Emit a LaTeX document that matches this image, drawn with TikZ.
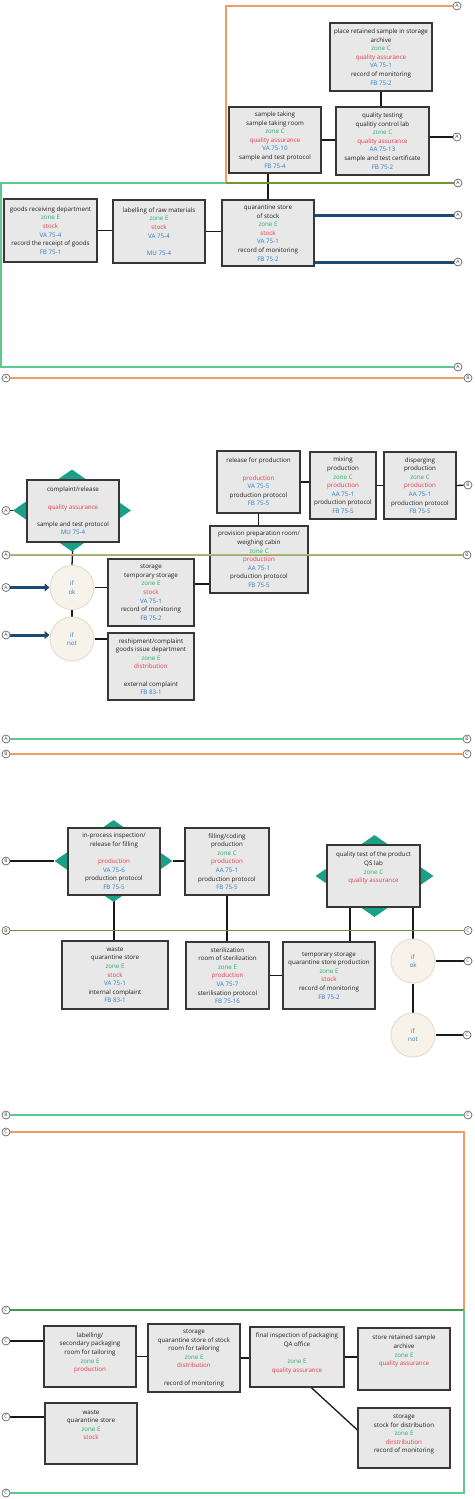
\documentclass[tikz,border=0pt]{standalone}
\usepackage{fontspec}
\setmainfont{Open Sans}
\usetikzlibrary{shapes.geometric,arrows.meta,calc}
\pgfdeclarelayer{bg}
\pgfsetlayers{bg,main}
\definecolor{boxfill}{RGB}{232,232,232}
\definecolor{boxline}{RGB}{55,55,55}
\definecolor{tgreen}{RGB}{40,178,110}
\definecolor{tred}{RGB}{228,60,78}
\definecolor{tblue}{RGB}{45,125,195}
\definecolor{tblack}{RGB}{30,30,30}
\definecolor{mintc}{RGB}{95,200,145}
\definecolor{orangec}{RGB}{240,155,95}
\definecolor{olivec}{RGB}{110,150,50}
\definecolor{dgreenc}{RGB}{60,155,80}
\definecolor{navyc}{RGB}{25,75,115}
\definecolor{tealc}{RGB}{25,160,135}
\definecolor{decfill}{RGB}{247,243,235}
\definecolor{decline}{RGB}{230,222,205}
\newcommand\gtx[1]{\textcolor{tgreen}{#1}}
\newcommand\rtx[1]{\textcolor{tred}{#1}}
\newcommand\btx[1]{\textcolor{tblue}{#1}}
\newcommand\boxnode[6]{\node[box, minimum width={#4-#2}, minimum height={#5-#3}] (#1) at ({(#2+#4)/2},{(#3+#5)/2}) {#6};}
\tikzset{
  box/.style={draw=boxline, fill=boxfill, line width=1.1pt, align=center, inner sep=0pt, text=tblack, font=\fontsize{6.2}{8.6}\selectfont},
  conn/.style={circle, draw=black!60, fill=white, line width=0.7pt, inner sep=0pt, minimum size=8pt, font=\fontsize{5}{5}\selectfont, text=black!75},
  dec/.style={circle, draw=decline, fill=decfill, line width=1pt, minimum size=44pt, inner sep=0pt, align=center, text=tblue, font=\fontsize{6.2}{8.6}\selectfont},
  dia/.style={diamond, fill=tealc, inner sep=0pt, minimum width=118pt, minimum height=82pt},
  link/.style={draw=black!90, line width=1.3pt},
  big/.style={draw=navyc, line width=3pt},
  arr/.style={draw=navyc, line width=3pt, -{Triangle[length=5pt,width=8pt]}},
  mintline/.style={draw=mintc, line width=1.3pt},
  orangeline/.style={draw=orangec, line width=1.3pt},
  oliveline/.style={draw=olivec, line width=1.6pt},
  greenline/.style={draw=dgreenc, line width=1.4pt}
}
\begin{document}
\begin{tikzpicture}[x=1pt,y=-1pt]
\useasboundingbox (0,0) rectangle (474,1499);
% ---------------- section 1
\boxnode{pr}{330}{23}{432}{91}{place retained sample in storage\\archive\\\gtx{zone C}\\\rtx{quality assurance}\\\btx{VA 75-1}\\record of monitoring\\\btx{FB 75-2}}
\boxnode{st}{229}{107}{321}{173}{sample taking\\sample taking room\\\gtx{zone C}\\\rtx{quality assurance}\\\btx{VA 75-10}\\sample and test protocol\\\btx{FB 75-4}}
\boxnode{qt}{336}{107}{429}{175}{quality testing\\qualitiy control lab\\\gtx{zone C}\\\rtx{quality assurance}\\\btx{AA 75-13}\\sample and test certificate\\\btx{FB 75-2}}
\boxnode{gr}{4}{199}{97}{262}{goods receiving department\\\gtx{zone E}\\\rtx{stock}\\\btx{VA 75-4}\\record the receipt of goods\\\btx{FB 75-1}}
\boxnode{lr}{113}{200}{205}{263}{labelling of raw materials\\\gtx{zone E}\\\rtx{stock}\\\btx{VA 75-4}\\~\\\btx{MU 75-4}}
\boxnode{qs}{222}{200}{314}{266}{quarantine store\\of stock\\\gtx{zone E}\\\rtx{stock}\\\btx{VA 75-1}\\record of monitoring\\\btx{FB 75-2}}
\node[conn] (a1) at (457,6) {A};
\node[conn] (a2) at (457,137) {A};
\node[conn] (a3) at (458,183) {A};
\node[conn] (a4) at (458,215) {A};
\node[conn] (a5) at (458,262) {A};
\node[conn] (a6) at (458,367) {A};
\node[conn] (a7) at (6,378) {A};
\node[conn] (b7) at (468,378) {B};
\coordinate (o1) at (226,6);
\coordinate (o2) at (226,183);
\coordinate (m1) at (1,183);
\coordinate (m2) at (1,367);
\begin{pgfonlayer}{bg}
\draw[link] (pr.south) -- (pr.south |- qt.north);
\draw[link] (st.east) -- (st.east -| qt.west);
\draw[link] (qt.east |- a2) -- (a2);
\draw[link] (qs.north) -- (qs.north |- st.south);
\draw[link] (gr.east) -- (gr.east -| lr.west);
\draw[link] (lr.east) -- (lr.east -| qs.west);
\draw[big] (qs.east |- a4) -- (a4);
\draw[big] (qs.east |- a5) -- (a5);
\end{pgfonlayer}
\draw[orangeline] (a1) -- (o1) -- (o2);
\draw[mintline] (o2) -- (m1) -- (m2) -- (a6);
\draw[oliveline] (o2) -- (a3);
\draw[orangeline] (a7) -- (b7);
% ---------------- section 2
\node[dia] (d1) at (72,510.5) {};
\boxnode{cr}{27}{480}{119}{542}{complaint/release\\~\\\rtx{quality assurance}\\~\\sample and test protocol\\\btx{MU 75-4}}
\node[dec] (ok1) at (72,587.5) {if\\ok};
\node[dec] (no1) at (72,639) {if\\not};
\boxnode{ts}{108}{559}{194}{626}{storage\\temporary storage\\\gtx{zone E}\\\rtx{stock}\\\btx{VA 75-1}\\record of monitoring\\\btx{FB 75-2}}
\boxnode{rs}{108}{633}{194}{700}{reshipment/complaint\\goods issue department\\\gtx{zone E}\\\rtx{distribution}\\~\\external complaint\\\btx{FB 83-1}}
\boxnode{rp}{217}{451}{300}{513}{release for production\\~\\\rtx{production}\\\btx{VA 75-5}\\production protocol\\\btx{FB 75-5}}
\boxnode{mx}{310}{452}{376}{519}{mixing\\production\\\gtx{zone C}\\\rtx{production}\\\btx{AA 75-1}\\production protocol\\\btx{FB 75-5}}
\boxnode{dp}{384}{452}{456}{519}{disperging\\production\\\gtx{zone C}\\\rtx{production}\\\btx{AA 75-1}\\production protocol\\\btx{FB 75-5}}
\boxnode{pv}{210}{526}{308}{593}{provision preparation room/\\weighing cabin\\\gtx{zone C}\\\rtx{production}\\\btx{AA 75-1}\\production protocol\\\btx{FB 75-5}}
\node[conn] (a8) at (6,510.5) {A};
\node[conn] (a9) at (6,555) {A};
\node[conn] (b9) at (467,555) {B};
\node[conn] (a10) at (6,587.5) {A};
\node[conn] (a11) at (6,635) {A};
\node[conn] (b8) at (468,485) {B};
\node[conn] (a12) at (6,739) {A};
\node[conn] (b12) at (467,739) {B};
\node[conn] (b13) at (6,754) {B};
\node[conn] (c13) at (467,754) {C};
\begin{pgfonlayer}{bg}
\draw[link] (a8) -- (d1.west);
\draw[link] (cr.south) -- (ok1.north);
\draw[link] (ok1.south) -- (no1.north);
\draw[link] (ok1.east) -- (ok1.east -| ts.west);
\draw[link] (no1.east) -- (no1.east -| rs.west);
\draw[link] ($(ts.north east)!0.375!(ts.south east)$) coordinate (tsx) -- (tsx -| pv.west);
\draw[link] (rp.south) -- (rp.south |- pv.north);
\draw[link] (rp.east) -- (rp.east -| mx.west);
\draw[link] (mx.east) -- (mx.east -| dp.west);
\draw[link] (dp.east) -- (b8);
\end{pgfonlayer}
\draw[arr] (a10) -- (ok1.west);
\draw[arr] (a11) -- (a11 -| no1.west);
\draw[mintline, line width=1.2pt, transform canvas={yshift=-0.6pt}] (a9) -- (b9);
\draw[orangeline, line width=1.0pt, transform canvas={yshift=0.6pt}] (a9) -- (b9);
\draw[mintline] (a12) -- (b12);
\draw[orangeline] (b13) -- (c13);
% ---------------- section 3
\node[dia] (d2) at (113.5,861) {};
\boxnode{ip}{68}{828}{160}{895}{in-process inspection/\\release for filling\\~\\\rtx{production}\\\btx{VA 75-6}\\production protocol\\\btx{FB 75-5}}
\boxnode{fc}{185}{828}{269}{895}{filling/coding\\production\\\gtx{zone C}\\\rtx{production}\\\btx{AA 75-1}\\production protocol\\\btx{FB 75-5}}
\boxnode{ws}{62}{941}{168}{1009}{waste\\quarantine store\\\gtx{zone E}\\\rtx{stock}\\\btx{VA 75-1}\\internal complaint\\\btx{FB 83-1}}
\boxnode{sr}{186}{942}{269}{1009}{sterilization\\room of sterilization\\\gtx{zone E}\\\rtx{production}\\\btx{VA 75-7}\\sterilisation protocol\\\btx{FB 75-16}}
\boxnode{tq}{283}{942}{375}{1009}{temporary storage\\quarantine store production\\\gtx{zone E}\\\rtx{stock}\\record of monitoring\\\btx{FB 75-2}}
\node[dia] (d3) at (374.5,876) {};
\boxnode{qp}{327}{845}{420}{907}{quality test of the product\\QS lab\\\gtx{zone C}\\\rtx{quality assurance}\\~\\~}
\node[dec] (ok2) at (413,961) {if\\ok};
\node[dec] (no2) at (413,1035) {if\\not};
\node[conn] (b14) at (6,861) {B};
\node[conn] (b15) at (6,930.5) {B};
\node[conn] (c15) at (468,930.5) {C};
\node[conn] (c16) at (468,961) {C};
\node[conn] (c17) at (467,1035) {C};
\node[conn] (b18) at (6,1115) {B};
\node[conn] (c18) at (468,1115) {C};
\node[conn] (c19) at (6,1132) {C};
\begin{pgfonlayer}{bg}
\draw[link] (b14) -- (d2.west);
\draw[link] (d2.east) -- (d2.east -| fc.west);
\draw[link] (ip.south) -- (ip.south |- ws.north);
\draw[link] (fc.south) -- (fc.south |- sr.north);
\draw[link] (sr.east) -- (sr.east -| tq.west);
\draw[link] ($(qp.south west)!0.25!(qp.south east)$) coordinate (qpx) -- (qpx |- tq.north);
\draw[link] (ok2.north) -- (ok2.north |- qp.south);
\draw[link] (ok2.south) -- (no2.north);
\draw[link] (ok2.east) -- (c16);
\draw[link] (no2.east) -- (c17);
\end{pgfonlayer}
\draw[oliveline] (b15) -- (c15);
\draw[mintline] (b18) -- (c18);
% ---------------- section 4
\boxnode{lb}{44}{1326}{136}{1387}{labelling/\\secondary packaging\\room for tailoring\\\gtx{zone E}\\\rtx{production}\\~}
\boxnode{sq}{148}{1324}{240}{1392}{storage\\quarantine store of stock\\room for tailoring\\\gtx{zone E}\\\rtx{distribution}\\~\\record of monitoring}
\boxnode{w2}{45}{1403}{137}{1464}{waste\\quarantine store\\\gtx{zone E}\\\rtx{stock}\\~\\~}
\boxnode{fi}{250}{1327}{344}{1387}{final inspection of packaging\\QA office\\~\\\gtx{zone E}\\\rtx{quality assurance}\\~}
\boxnode{sa}{358}{1328}{450}{1390}{store retained sample\\archive\\\gtx{zone E}\\\rtx{quality assurance}\\~\\~}
\boxnode{sd}{358}{1408}{450}{1468}{storage\\stock for distribution\\\gtx{zone E}\\\rtx{dirstribution}\\record of monitoring\\~}
\node[conn] (c20) at (6,1310) {C};
\node[conn] (c21) at (6,1341) {C};
\node[conn] (c22) at (6,1417) {C};
\node[conn] (c23) at (6,1493) {C};
\coordinate (k1) at (464,1132);
\coordinate (k2) at (464,1310);
\coordinate (k3) at (464,1493);
\begin{pgfonlayer}{bg}
\draw[link] (c21) -- (c21 -| lb.west);
\draw[link] (lb.east) -- (lb.east -| sq.west);
\draw[link] (c22) -- (c22 -| w2.west);
\draw[link] (sq.east) -- (sq.east -| fi.west);
\draw[link] (fi.east) -- (fi.east -| sa.west);
\draw[link] ($(fi.south west)!0.65!(fi.south east)$) -- ($(sd.north west)!0.37!(sd.south west)$);
\end{pgfonlayer}
\draw[orangeline] (c19) -- (k1) -- (k2);
\draw[greenline] (c20) -- (k2);
\draw[mintline] (k2) -- (k3) -- (c23);
\end{tikzpicture}
\end{document}
